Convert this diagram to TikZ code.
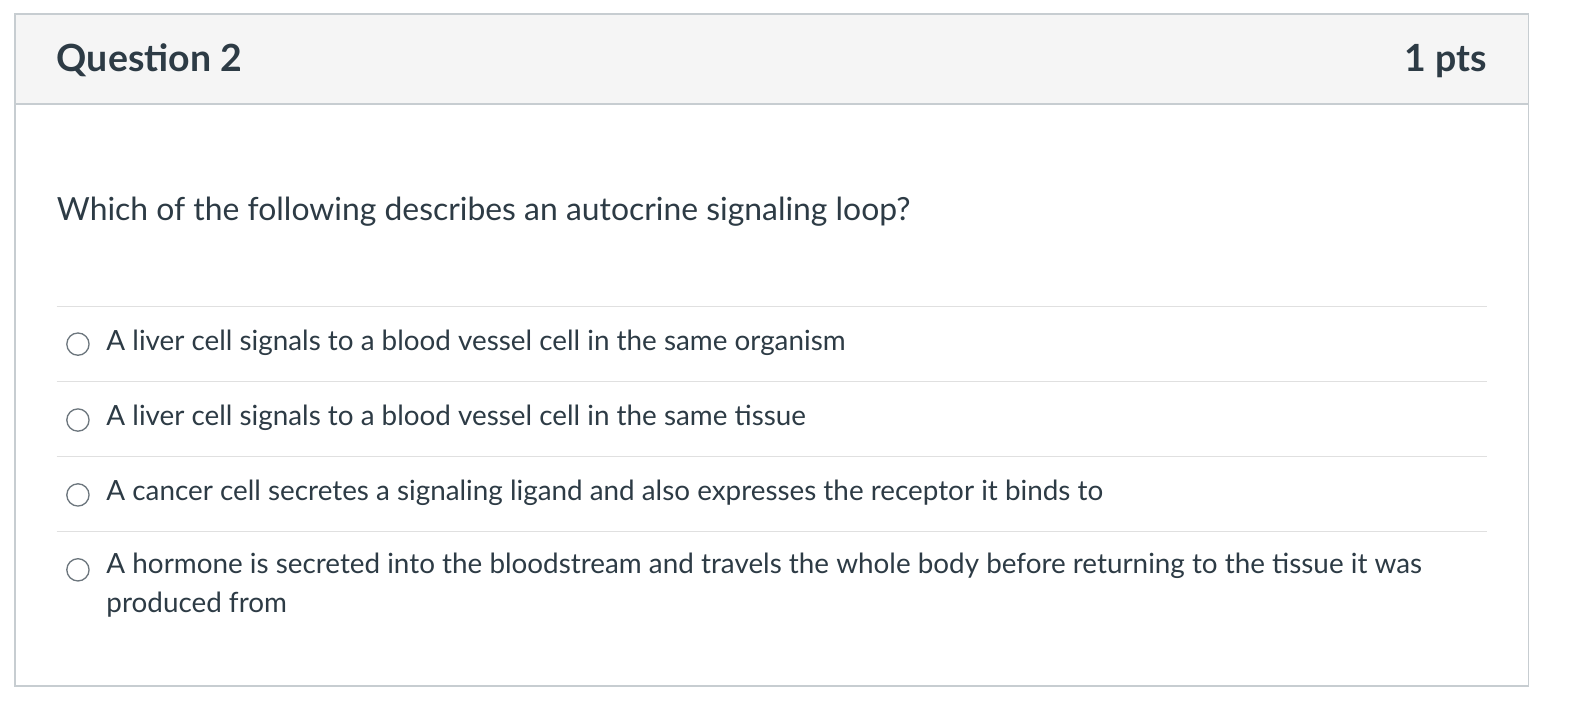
\documentclass[tikz,border=0pt]{standalone}
\usepackage{fontspec}
\setmainfont{Lato}
\definecolor{txt}{HTML}{2D3B45}
\definecolor{hdr}{HTML}{F5F5F5}
\definecolor{bord}{HTML}{C7CDD1}
\definecolor{sep}{HTML}{E0E0E0}
\begin{document}
\begin{tikzpicture}[x=1pt,y=-1pt,
  opt/.style={anchor=west,inner sep=0pt,font=\fontsize{27.5}{39}\selectfont,text=txt,align=left},
  radio/.style={circle,draw=txt!70,line width=1.3pt,minimum size=22pt,inner sep=0pt},
  sepline/.style={draw=sep,line width=1pt}]
\useasboundingbox (0,0) rectangle (1567,711.5);
\fill[white] (0,0) rectangle (1567,711.5);
\filldraw[fill=hdr,draw=none] (15,14) rectangle (1510,103);
\draw[bord,line width=1.5pt] (15,14) rectangle (1510,678);
\draw[bord,line width=1.5pt] (15,103) -- (1510,103);
\node[anchor=west,inner sep=0pt,font=\fontsize{37}{40}\bfseries\selectfont,text=txt] (q) at (56,60) {Question 2};
\node[anchor=east,inner sep=0pt,font=\fontsize{37}{40}\bfseries\selectfont,text=txt] (p) at (1469,60) {1 pts};
\node[anchor=west,inner sep=0pt,font=\fontsize{31.5}{36}\selectfont,text=txt] (qt) at (56,209.5) {Which of the following describes an autocrine signaling loop?};
\foreach \y in {302.5,376.5,451.5,525.5} \draw[sepline] (56,\y) -- (1469,\y);
\node[radio] (r1) at (77,340) {};
\node[opt] (o1) at (105,339) {A liver cell signals to a blood vessel cell in the same organism};
\node[radio] (r2) at (77,415) {};
\node[opt] (o2) at (105,413) {A liver cell signals to a blood vessel cell in the same tissue};
\node[radio] (r3) at (77,489) {};
\node[opt] (o3) at (105,487) {A cancer cell secretes a signaling ligand and also expresses the receptor it binds to};
\node[radio] (r4) at (77,563) {};
\node[opt,anchor=north west] (o4) at (105,546) {A hormone is secreted into the bloodstream and travels the whole body before returning to the tissue it was\\produced from};
\end{tikzpicture}
\end{document}
